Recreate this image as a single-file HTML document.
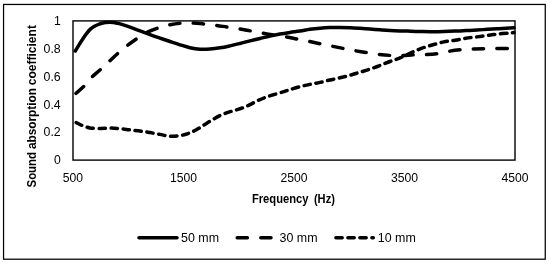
<!DOCTYPE html>
<html><head><meta charset="utf-8"><title>Sound absorption coefficient</title>
<style>
html,body{margin:0;padding:0;background:#fff;}
svg{display:block;}
text{font-family:"Liberation Sans",sans-serif;fill:#000;}
.t{font-size:12.2px;}
.b{font-size:12.2px;font-weight:bold;}
</style></head><body>
<svg width="550" height="265" viewBox="0 0 550 265">
<rect x="0" y="0" width="550" height="265" fill="#fff"/>
<rect x="3.55" y="4.45" width="541.7" height="254.75" fill="none" stroke="#000" stroke-width="1.25"/>
<rect x="73" y="20.9" width="442" height="139.2" fill="none" stroke="#000" stroke-width="1.4"/>
<g fill="none" stroke="#000" stroke-width="3.5" stroke-linecap="round" stroke-linejoin="round">
<path d="M75.30 51.00 C75.97 49.90 78.00 46.50 79.30 44.40 C80.60 42.30 81.83 40.28 83.10 38.40 C84.37 36.52 85.63 34.68 86.90 33.10 C88.17 31.52 89.45 30.03 90.70 28.90 C91.95 27.77 93.15 27.03 94.40 26.30 C95.65 25.57 96.93 25.02 98.20 24.50 C99.47 23.98 100.73 23.53 102.00 23.20 C103.27 22.87 104.55 22.65 105.80 22.50 C107.05 22.35 108.25 22.30 109.50 22.30 C110.75 22.30 112.03 22.35 113.30 22.50 C114.57 22.65 115.83 22.92 117.10 23.20 C118.37 23.48 118.75 23.53 120.90 24.20 C123.05 24.87 126.82 26.08 130.00 27.20 C133.18 28.32 136.67 29.67 140.00 30.90 C143.33 32.13 146.67 33.40 150.00 34.60 C153.33 35.80 156.67 36.95 160.00 38.10 C163.33 39.25 166.67 40.38 170.00 41.50 C173.33 42.62 176.67 43.77 180.00 44.80 C183.33 45.83 186.67 46.97 190.00 47.70 C193.33 48.43 196.67 48.98 200.00 49.20 C203.33 49.43 206.67 49.27 210.00 49.05 C213.33 48.82 216.67 48.38 220.00 47.85 C223.33 47.32 226.67 46.58 230.00 45.85 C233.33 45.12 236.67 44.28 240.00 43.45 C243.33 42.62 246.67 41.68 250.00 40.85 C253.33 40.02 256.67 39.25 260.00 38.45 C263.33 37.65 266.67 36.78 270.00 36.05 C273.33 35.32 276.67 34.65 280.00 34.05 C283.33 33.45 286.67 32.95 290.00 32.45 C293.33 31.95 296.67 31.58 300.00 31.05 C303.33 30.52 306.67 29.73 310.00 29.25 C313.33 28.77 316.67 28.43 320.00 28.15 C323.33 27.87 326.67 27.67 330.00 27.55 C333.33 27.43 336.67 27.42 340.00 27.45 C343.33 27.48 346.67 27.60 350.00 27.75 C353.33 27.90 356.67 28.13 360.00 28.35 C363.33 28.57 366.67 28.80 370.00 29.05 C373.33 29.30 376.67 29.60 380.00 29.85 C383.33 30.10 386.67 30.37 390.00 30.55 C393.33 30.73 396.50 30.84 400.00 30.95 C403.50 31.06 407.33 31.09 411.00 31.20 C414.67 31.31 418.33 31.52 422.00 31.60 C425.67 31.68 429.33 31.72 433.00 31.70 C436.67 31.68 440.33 31.60 444.00 31.50 C447.67 31.40 451.33 31.25 455.00 31.10 C458.67 30.95 462.33 30.78 466.00 30.60 C469.67 30.42 473.40 30.22 477.00 30.00 C480.60 29.78 484.02 29.52 487.60 29.30 C491.18 29.08 494.85 28.92 498.50 28.70 C502.15 28.48 506.92 28.17 509.50 28.00 C512.08 27.83 513.25 27.75 514.00 27.70"/>
<path stroke-dasharray="10.2 13.4" d="M76.00 93.30 C77.27 92.18 81.03 89.22 83.60 86.60 C86.17 83.98 88.60 80.43 91.40 77.60 C94.20 74.77 97.47 72.27 100.40 69.60 C103.33 66.93 106.13 64.27 109.00 61.60 C111.87 58.93 114.60 56.23 117.60 53.60 C120.60 50.97 123.93 48.20 127.00 45.80 C130.07 43.40 132.67 41.43 136.00 39.20 C139.33 36.97 143.50 34.20 147.00 32.40 C150.50 30.60 153.33 29.63 157.00 28.40 C160.67 27.17 165.17 25.87 169.00 25.00 C172.83 24.13 176.33 23.53 180.00 23.20 C183.67 22.87 187.00 22.87 191.00 23.00 C195.00 23.13 200.00 23.63 204.00 24.00 C208.00 24.37 211.17 24.70 215.00 25.20 C218.83 25.70 223.00 26.40 227.00 27.00 C231.00 27.60 235.00 28.13 239.00 28.80 C243.00 29.47 247.00 30.27 251.00 31.00 C255.00 31.73 259.00 32.50 263.00 33.20 C267.00 33.90 271.17 34.60 275.00 35.20 C278.83 35.80 282.33 36.17 286.00 36.80 C289.67 37.43 293.17 38.23 297.00 39.00 C300.83 39.77 305.00 40.57 309.00 41.40 C313.00 42.23 317.17 43.20 321.00 44.00 C324.83 44.80 328.17 45.43 332.00 46.20 C335.83 46.97 340.17 47.85 344.00 48.60 C347.83 49.35 351.17 50.02 355.00 50.70 C358.83 51.38 363.17 52.10 367.00 52.70 C370.83 53.30 374.17 53.85 378.00 54.30 C381.83 54.75 386.00 55.18 390.00 55.40 C394.00 55.62 398.00 55.70 402.00 55.60 C406.00 55.50 410.00 54.97 414.00 54.80 C418.00 54.63 422.00 54.80 426.00 54.60 C430.00 54.40 434.12 54.17 438.00 53.60 C441.88 53.03 445.42 51.87 449.30 51.20 C453.18 50.53 457.40 49.97 461.30 49.60 C465.20 49.23 468.75 49.15 472.70 49.00 C476.65 48.85 481.07 48.77 485.00 48.70 C488.93 48.63 492.33 48.62 496.30 48.60 C500.27 48.58 505.85 48.60 508.80 48.60 C511.75 48.60 513.13 48.60 514.00 48.60"/>
<path stroke-dasharray="6.3 5.7" d="M76.20 122.60 C76.67 122.83 77.95 123.50 79.00 124.00 C80.05 124.50 80.67 124.95 82.50 125.60 C84.33 126.25 87.08 127.43 90.00 127.90 C92.92 128.37 96.67 128.37 100.00 128.40 C103.33 128.43 106.67 128.07 110.00 128.10 C113.33 128.13 116.67 128.30 120.00 128.60 C123.33 128.90 126.67 129.48 130.00 129.90 C133.33 130.32 136.67 130.65 140.00 131.10 C143.33 131.55 146.67 132.05 150.00 132.60 C153.33 133.15 156.67 133.80 160.00 134.40 C163.33 135.00 166.67 136.00 170.00 136.20 C173.33 136.40 177.00 136.03 180.00 135.60 C183.00 135.17 185.33 134.53 188.00 133.60 C190.67 132.67 193.33 131.43 196.00 130.00 C198.67 128.57 201.33 126.67 204.00 125.00 C206.67 123.33 209.33 121.57 212.00 120.00 C214.67 118.43 217.33 116.87 220.00 115.60 C222.67 114.33 225.33 113.33 228.00 112.40 C230.67 111.47 233.33 110.83 236.00 110.00 C238.67 109.17 241.33 108.47 244.00 107.40 C246.67 106.33 249.33 104.90 252.00 103.60 C254.67 102.30 257.33 100.80 260.00 99.60 C262.67 98.40 265.33 97.33 268.00 96.40 C270.67 95.47 273.33 94.80 276.00 94.00 C278.67 93.20 281.67 92.33 284.00 91.60 C286.33 90.87 287.33 90.43 290.00 89.60 C292.67 88.77 296.67 87.47 300.00 86.60 C303.33 85.73 306.67 85.10 310.00 84.40 C313.33 83.70 316.67 83.13 320.00 82.40 C323.33 81.67 326.67 80.77 330.00 80.00 C333.33 79.23 336.67 78.58 340.00 77.80 C343.33 77.02 346.67 76.23 350.00 75.30 C353.33 74.37 356.67 73.23 360.00 72.20 C363.33 71.17 366.67 70.22 370.00 69.10 C373.33 67.98 376.67 66.77 380.00 65.50 C383.33 64.23 386.67 62.77 390.00 61.50 C393.33 60.23 396.50 59.35 400.00 57.90 C403.50 56.45 407.33 54.42 411.00 52.80 C414.67 51.18 418.33 49.53 422.00 48.20 C425.67 46.87 429.33 45.85 433.00 44.80 C436.67 43.75 440.33 42.67 444.00 41.90 C447.67 41.13 451.38 40.80 455.00 40.20 C458.62 39.60 462.10 38.85 465.70 38.30 C469.30 37.75 472.95 37.38 476.60 36.90 C480.25 36.42 483.95 35.88 487.60 35.40 C491.25 34.92 494.85 34.40 498.50 34.00 C502.15 33.60 506.92 33.23 509.50 33.00 C512.08 32.77 513.25 32.67 514.00 32.60"/>
<path d="M139 237.8H177"/>
<path stroke-dasharray="10.2 13.4" d="M237.2 237.8H277"/>
<path stroke-dasharray="6.3 5.7" d="M335.9 237.8H373.3"/>
</g>
<g class="t" text-anchor="end">
<text x="60.7" y="24.8">1</text>
<text x="60.7" y="52.9" textLength="17.2" lengthAdjust="spacingAndGlyphs">0.8</text>
<text x="60.7" y="80.7" textLength="17.2" lengthAdjust="spacingAndGlyphs">0.6</text>
<text x="60.7" y="108.6" textLength="17.2" lengthAdjust="spacingAndGlyphs">0.4</text>
<text x="60.7" y="136.4" textLength="17.2" lengthAdjust="spacingAndGlyphs">0.2</text>
<text x="60.7" y="164.3">0</text>
</g>
<g class="t" text-anchor="middle">
<text x="73" y="182.1" textLength="20.3" lengthAdjust="spacingAndGlyphs">500</text>
<text x="183.5" y="182.1" textLength="27.1" lengthAdjust="spacingAndGlyphs">1500</text>
<text x="294" y="182.1" textLength="27.1" lengthAdjust="spacingAndGlyphs">2500</text>
<text x="404.5" y="182.1" textLength="27.1" lengthAdjust="spacingAndGlyphs">3500</text>
<text x="515" y="182.1" textLength="27.1" lengthAdjust="spacingAndGlyphs">4500</text>
</g>
<text class="b" y="203"><tspan x="251.9" textLength="56.6" lengthAdjust="spacingAndGlyphs">Frequency</tspan> <tspan x="313.9" textLength="21" lengthAdjust="spacingAndGlyphs">(Hz)</tspan></text>
<text class="b" transform="translate(35.8 187.5) rotate(-90)"><tspan x="0" textLength="35.6" lengthAdjust="spacingAndGlyphs">Sound</tspan> <tspan x="38.4" textLength="61.1" lengthAdjust="spacingAndGlyphs">absorption</tspan> <tspan x="102.2" textLength="60.2" lengthAdjust="spacingAndGlyphs">coefficient</tspan></text>
<g class="t">
<text x="181" y="241.9" textLength="38" lengthAdjust="spacingAndGlyphs">50 mm</text>
<text x="279.5" y="241.9" textLength="38" lengthAdjust="spacingAndGlyphs">30 mm</text>
<text x="377.8" y="241.9" textLength="38" lengthAdjust="spacingAndGlyphs">10 mm</text>
</g>
</svg>
</body></html>
